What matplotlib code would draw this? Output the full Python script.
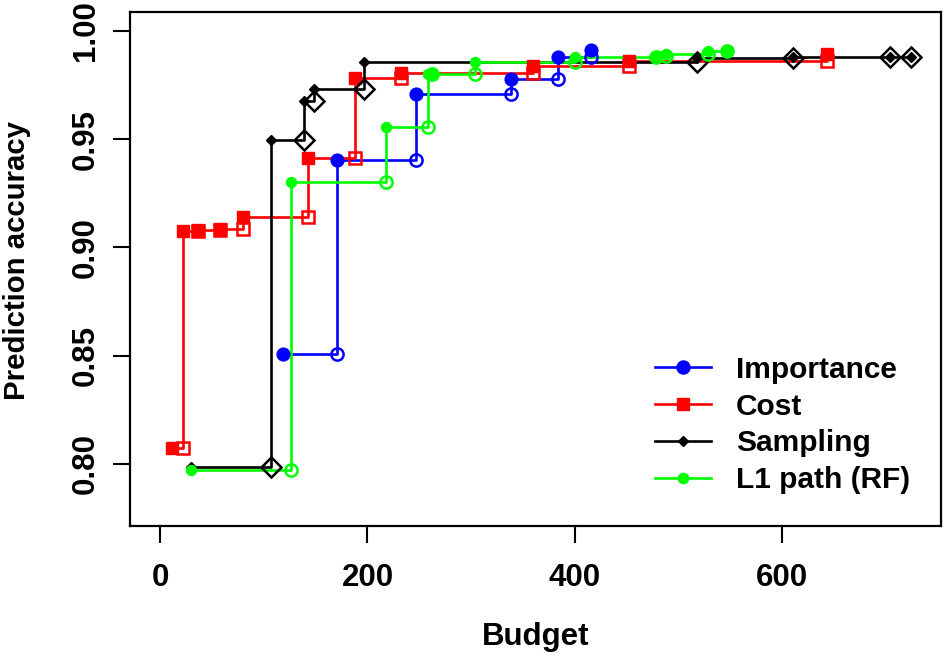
import matplotlib
matplotlib.use("Agg")
import matplotlib.pyplot as plt
from matplotlib.lines import Line2D

# values (budget, accuracy at each step)
imp_x = [118.3, 170.5, 247.0, 338.7, 383.8, 415.7]
imp_y = [0.8505, 0.9403, 0.9708, 0.9778, 0.9878, 0.9912]

cost_x = [11.5, 22.5, 37.0, 58.0, 80.0, 142.5, 187.5, 232.5, 359.5, 452.5, 643.0]
cost_y = [0.8074, 0.9075, 0.9079, 0.9083, 0.9142, 0.9412, 0.9782, 0.9808, 0.9839, 0.9863, 0.9894]

samp_x = [29.5, 106.5, 138.5, 148.5, 197.0, 518.0, 610.0, 703.5, 724.0]
samp_y = [0.7985, 0.9495, 0.9677, 0.9731, 0.9855, 0.9877, 0.9878, 0.9880, 0.9881]

l1_x = [29.5, 126.5, 218.0, 258.5, 262.5, 303.5, 400.5, 478.0, 488.0, 528.5, 546.5]
l1_y = [0.7972, 0.9302, 0.9557, 0.9800, 0.9803, 0.9858, 0.9881, 0.9886, 0.9893, 0.9906, 0.9912]

labels = ["Importance", "Cost", "Sampling", "L1 path (RF)"]
x_ticks = [0, 200, 400, 600]
y_ticks = [0.80, 0.85, 0.90, 0.95, 1.00]

plt.rcParams["font.family"] = ["Liberation Sans", "DejaVu Sans"]
plt.rcParams["font.weight"] = "bold"
plt.rcParams["font.size"] = 21

fig = plt.figure(figsize=(9.44, 6.57), dpi=100)
ax = fig.add_axes([130 / 944, 1 - 526 / 657, 811 / 944, 514 / 657])

# (x, y, colour, filled marker, filled size, open marker, open size)
series = [
    (imp_x, imp_y, "#0000ff", "o", 9.2, "o", 8.8),
    (cost_x, cost_y, "#ff0000", "s", 8.6, "s", 8.4),
    (samp_x, samp_y, "#000000", "D", 5.2, "D", 10.2),
    (l1_x, l1_y, "#00ff00", "o", 7.2, "o", 8.8),
]

for xs, ys, col, fm, fs, om, osz in series:
    ax.step(xs, ys, where="post", color=col, lw=1.9, zorder=2)
    ax.plot(xs, ys, ls="none", marker=fm, ms=fs, color=col, mec=col, zorder=3)
    # open marker where each step ends
    ax.plot(xs[1:], ys[:-1], ls="none", marker=om, ms=osz, mfc="none",
            mec=col, mew=1.8, zorder=3)

ax.set_xlim(-29, 753)
ax.set_ylim(0.7712, 1.0088)
ax.set_xticks(x_ticks)
ax.set_xticklabels([str(v) for v in x_ticks])
ax.set_yticks(y_ticks)
ax.set_yticklabels([f"{v:.2f}" for v in y_ticks])

for s in ax.spines.values():
    s.set_linewidth(1.6)
ax.tick_params(axis="both", length=12, width=1.5, labelsize=22.5)
ax.tick_params(axis="x", pad=15)
ax.tick_params(axis="y", pad=9)
for lab in ax.get_yticklabels():
    lab.set_rotation(90)
    lab.set_va("center")

ax.set_xlabel("Budget", fontsize=22.5, fontweight="bold")
ax.xaxis.set_label_coords(0.5, (526 - 637) / 514)
ax.xaxis.label.set_va("center")
ax.set_ylabel("Prediction accuracy", fontsize=21.2, fontweight="bold")
ax.yaxis.set_label_coords((17 - 130) / 811, (526 - 261) / 514)
ax.yaxis.label.set_va("center")

handles = [
    Line2D([], [], color="#0000ff", lw=1.9, marker="o", ms=9.4),
    Line2D([], [], color="#ff0000", lw=1.9, marker="s", ms=8.8),
    Line2D([], [], color="#000000", lw=1.9, marker="D", ms=5.2),
    Line2D([], [], color="#00ff00", lw=1.9, marker="o", ms=7.4),
]
ax.legend(handles, labels, loc="center left",
          bbox_to_anchor=(655 / 944, 1 - 425 / 657),
          bbox_transform=fig.transFigure, frameon=False,
          borderpad=0, borderaxespad=0, handlelength=1.86,
          handletextpad=0.85, labelspacing=0.3, fontsize=21.5)

fig.savefig("out.png", dpi=100)
